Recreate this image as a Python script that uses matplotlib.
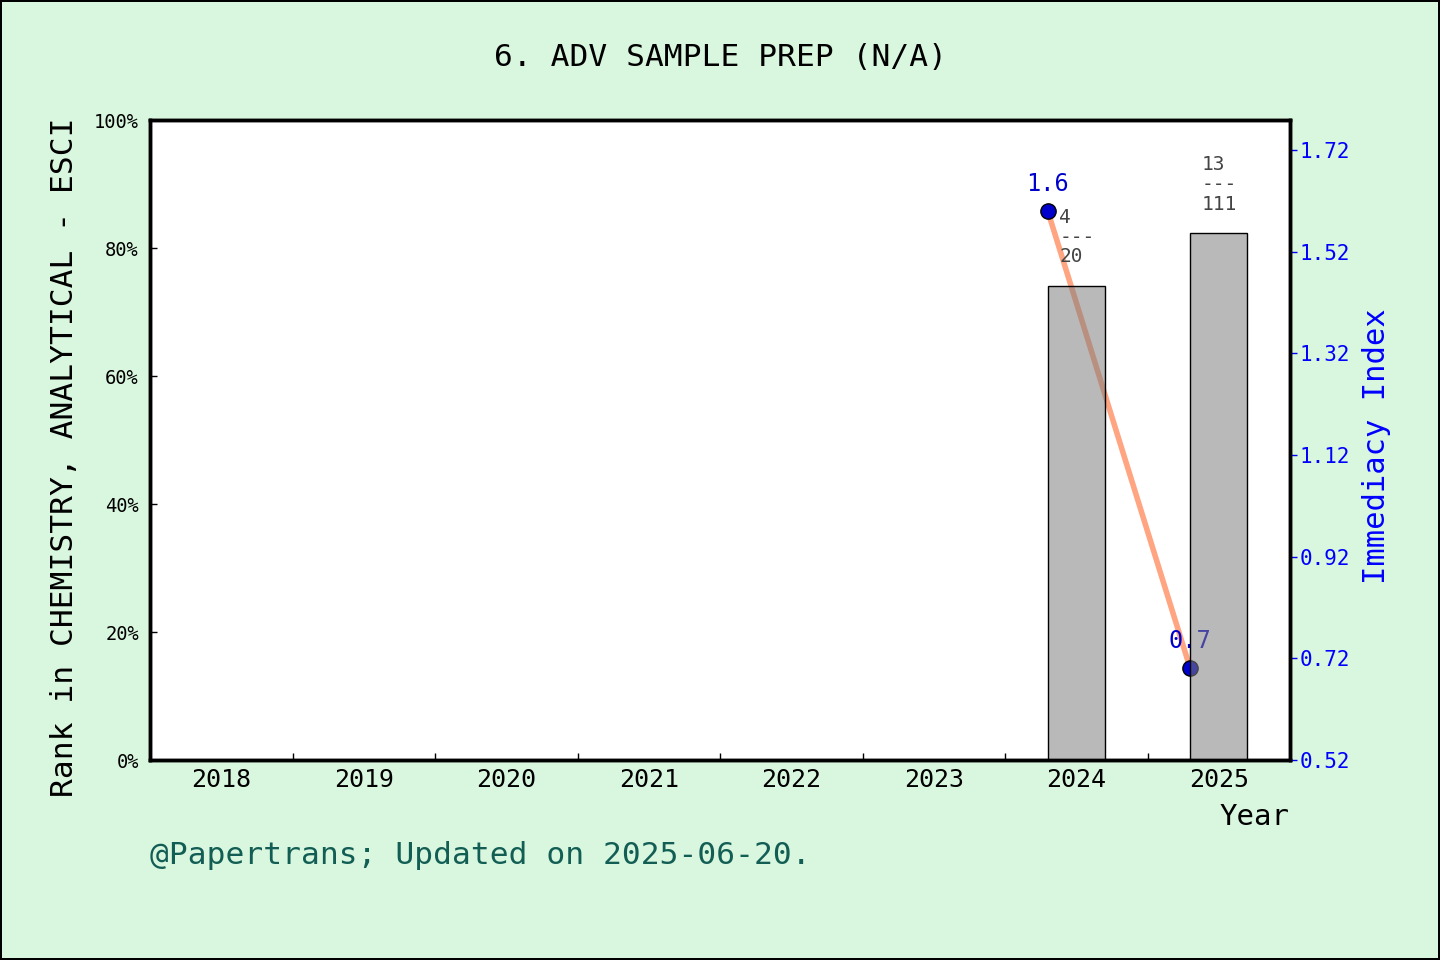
import matplotlib
matplotlib.use("Agg")
import matplotlib.pyplot as plt
from matplotlib.ticker import FuncFormatter, FixedLocator

# ---- data ----
years = [2018, 2019, 2020, 2021, 2022, 2023, 2024, 2025]
rank_years = [2024, 2025]
rank_pct = [74.1, 82.3]
rank_labels = ["4\n---\n20", "13\n---\n111"]
ii_years = [2024, 2025]
ii_values = [1.60, 0.70]
ii_labels = ["1.6", "0.7"]
left_ticks = [0, 20, 40, 60, 80, 100]
right_ticks = [0.52, 0.72, 0.92, 1.12, 1.32, 1.52, 1.72]

title = "6. ADV SAMPLE PREP (N/A)"
left_label = "Rank in CHEMISTRY, ANALYTICAL - ESCI"
right_label = "Immediacy Index"
footer = "@Papertrans; Updated on 2025-06-20."

MONO = "DejaVu Sans Mono"
plt.rcParams['font.family'] = [MONO]

fig = plt.figure(figsize=(14.4, 9.6), dpi=100, facecolor="#d9f6de",
                 edgecolor="black", linewidth=1.5)
ax = fig.add_axes([150/1440, 200/960, 1140/1440, 640/960])
ax2 = ax.twinx()

# layering: bars (ax) above line (ax2)
ax.set_zorder(2)
ax2.set_zorder(1)
ax.patch.set_visible(False)
ax2.patch.set_visible(True)
ax2.patch.set_facecolor("white")

bar_w = 0.4
ax.bar(rank_years, rank_pct, width=bar_w, facecolor=(0.5, 0.5, 0.5, 0.55),
       edgecolor=(0, 0, 0, 1), linewidth=1)
for x, h, lab in zip(rank_years, rank_pct, rank_labels):
    ax.annotate(lab, xy=(x - 0.12, h), xytext=(0, 14), textcoords="offset points",
                ha="left", va="bottom", fontsize=14, color="#444444",
                linespacing=1.05)

xs = [y - bar_w / 2 for y in ii_years]
ax2.plot(xs, ii_values, color="#ffa07a", linewidth=4, alpha=0.95, zorder=1)
ax2.plot(xs, ii_values, linestyle="none", marker="o", markersize=11,
         markerfacecolor="#0000cd", markeredgecolor="black", markeredgewidth=1, zorder=2)
for x, v, lab in zip(xs, ii_values, ii_labels):
    ax2.annotate(lab, xy=(x, v), xytext=(0, 11), textcoords="offset points",
                 ha="center", va="bottom", fontsize=17, color="#0000cc")

ax.set_xlim(2017.5, 2025.5)
ax.set_ylim(0, 100)
ax2.set_ylim(0.52, 1.779)

ax.set_xticks(years)
ax.set_xticklabels([str(y) for y in years])
ax.xaxis.set_minor_locator(FixedLocator([y + 0.5 for y in years[:-1]]))
ax.tick_params(axis="x", which="major", length=0, labelsize=18, pad=6)
ax.tick_params(axis="x", which="minor", direction="in", length=5, width=1)

ax.set_yticks(left_ticks)
ax.yaxis.set_major_formatter(FuncFormatter(lambda v, p: f"{v:.0f}%"))
ax.tick_params(axis="y", direction="in", length=5, width=1, labelsize=13.5, pad=8)

ax2.set_yticks(right_ticks)
ax2.yaxis.set_major_formatter(FuncFormatter(lambda v, p: f"{v:.2f}"))
ax2.tick_params(axis="y", direction="out", length=5, width=1, colors="blue",
                labelsize=15, pad=2)

for a in (ax, ax2):
    for s in a.spines.values():
        s.set_linewidth(2.5)
        s.set_color("black")

ax.set_xlabel("Year", fontsize=21, loc="right", labelpad=8)
ax.set_ylabel(left_label, fontsize=22.5)
ax.yaxis.set_label_coords(-0.0623, 0.473)
ax2.set_ylabel(right_label, fontsize=22, color="blue")
ax2.yaxis.set_label_coords(1.063, 0.49)

fig.text(0.5, 1 - 57/960, title, ha="center", va="center", fontsize=22.5, color="black")
fig.text(150/1440, 1 - 855/960, footer, ha="left", va="center", fontsize=22.5,
         color="#125e55")

fig.savefig("out.png", dpi=100, facecolor=fig.get_facecolor(), edgecolor=fig.get_edgecolor())
